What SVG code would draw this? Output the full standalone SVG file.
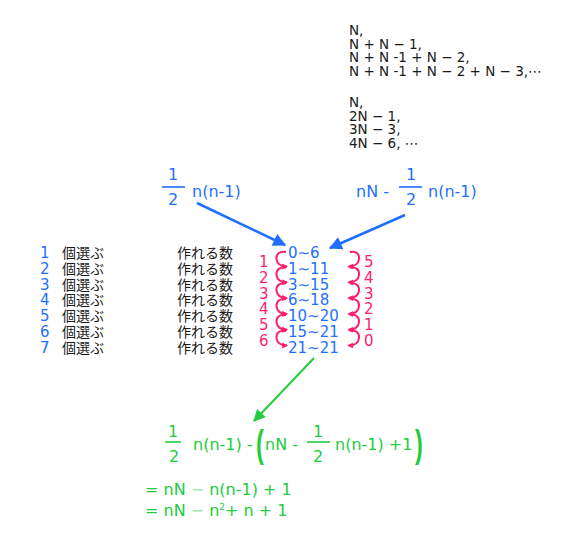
<svg xmlns="http://www.w3.org/2000/svg" width="575" height="536" viewBox="0 0 575 536">
<defs>
<style>
text{font-family:"DejaVu Sans",sans-serif}
.jp{font-family:"Noto Sans CJK JP","DejaVu Sans",sans-serif}
.blk{fill:#1a1a1a;font-size:13.5px}
.blue{fill:#1f6fff;font-size:16px}
.bl{fill:#1f6fff;font-size:15px}
.pk{fill:#ff1e6e;font-size:15px}
.gr{fill:#22cc3c;font-size:16px}
.lgr{fill:#a6eab0}
.bj{fill:#1a1a1a;font-size:14px}
.mid{text-anchor:middle}
.curl{fill:none;stroke:#ff1e6e;stroke-width:2;marker-end:url(#pa)}
</style>
<marker id="ba" markerUnits="userSpaceOnUse" viewBox="0 0 10 10" refX="9" refY="5" markerWidth="15" markerHeight="13" orient="auto"><path d="M0,0 L10,5 L0,10 z" fill="#1f6fff"/></marker>
<marker id="ga" markerUnits="userSpaceOnUse" viewBox="0 0 10 10" refX="9" refY="5" markerWidth="14" markerHeight="12" orient="auto"><path d="M0,0 L10,5 L0,10 z" fill="#22cc3c"/></marker>
<marker id="pa" markerUnits="userSpaceOnUse" viewBox="0 0 10 10" refX="8" refY="5" markerWidth="6" markerHeight="6" orient="auto"><path d="M0,0 L10,5 L0,10 z" fill="#ff1e6e"/></marker>
</defs>
<rect width="575" height="536" fill="#ffffff"/>

<g id="sums">
<text class="blk" x="349" y="35">N,</text>
<text class="blk" x="349" y="48.5">N + N − 1,</text>
<text class="blk" x="349" y="62">N + N -1 + N − 2,</text>
<text class="blk" x="349" y="75.5">N + N -1 + N − 2 + N − 3,⋯</text>
</g>
<g id="simplified">
<text class="blk" x="349" y="107">N,</text>
<text class="blk" x="349" y="120.5">2N − 1,</text>
<text class="blk" x="349" y="134">3N − 3,</text>
<text class="blk" x="349" y="147.5">4N − 6, ⋯</text>
</g>

<g id="min-formula">
<text class="blue mid" x="173" y="180">1</text>
<line x1="162" y1="187" x2="185" y2="187" stroke="#1f6fff" stroke-width="1.6"/>
<text class="blue mid" x="173" y="205">2</text>
<text class="blue" x="192" y="197">n(n-1)</text>
</g>
<g id="max-formula">
<text class="blue" x="356" y="197">nN -</text>
<text class="blue mid" x="411" y="180">1</text>
<line x1="399" y1="187" x2="422" y2="187" stroke="#1f6fff" stroke-width="1.6"/>
<text class="blue mid" x="411" y="205">2</text>
<text class="blue" x="428" y="197">n(n-1)</text>
</g>

<g id="choose-list">
<text class="bl" x="40" y="258">1</text>
<text class="bl" x="40" y="273.8">2</text>
<text class="bl" x="40" y="289.6">3</text>
<text class="bl" x="40" y="305.4">4</text>
<text class="bl" x="40" y="321.2">5</text>
<text class="bl" x="40" y="337">6</text>
<text class="bl" x="40" y="352.8">7</text>
<text class="jp bj" x="62" y="258">個選ぶ</text>
<text class="jp bj" x="62" y="273.8">個選ぶ</text>
<text class="jp bj" x="62" y="289.6">個選ぶ</text>
<text class="jp bj" x="62" y="305.4">個選ぶ</text>
<text class="jp bj" x="62" y="321.2">個選ぶ</text>
<text class="jp bj" x="62" y="337">個選ぶ</text>
<text class="jp bj" x="62" y="352.8">個選ぶ</text>
<text class="jp bj" x="177" y="258">作れる数</text>
<text class="jp bj" x="177" y="273.8">作れる数</text>
<text class="jp bj" x="177" y="289.6">作れる数</text>
<text class="jp bj" x="177" y="305.4">作れる数</text>
<text class="jp bj" x="177" y="321.2">作れる数</text>
<text class="jp bj" x="177" y="337">作れる数</text>
<text class="jp bj" x="177" y="352.8">作れる数</text>
</g>

<g id="ranges">
<text class="bl" x="288" y="258">0∼6</text>
<text class="bl" x="288" y="273.8">1∼11</text>
<text class="bl" x="288" y="289.6">3∼15</text>
<text class="bl" x="288" y="305.4">6∼18</text>
<text class="bl" x="288" y="321.2">10∼20</text>
<text class="bl" x="288" y="337">15∼21</text>
<text class="bl" x="288" y="352.8">21∼21</text>
</g>

<g id="min-steps">
<text class="pk" x="259" y="267">1</text>
<text class="pk" x="259" y="282.8">2</text>
<text class="pk" x="259" y="298.6">3</text>
<text class="pk" x="259" y="314.4">4</text>
<text class="pk" x="259" y="330.2">5</text>
<text class="pk" x="259" y="346">6</text>
</g>
<g id="max-steps">
<text class="pk" x="364" y="267">5</text>
<text class="pk" x="364" y="282.8">4</text>
<text class="pk" x="364" y="298.6">3</text>
<text class="pk" x="364" y="314.4">2</text>
<text class="pk" x="364" y="330.2">1</text>
<text class="pk" x="364" y="346">0</text>
</g>

<g id="connectors">
<line x1="197" y1="203" x2="285" y2="245" stroke="#1f6fff" stroke-width="2.5" marker-end="url(#ba)"/>
<line x1="405" y1="215" x2="330" y2="248" stroke="#1f6fff" stroke-width="2.5" marker-end="url(#ba)"/>
<line x1="314" y1="358" x2="254" y2="421" stroke="#22cc3c" stroke-width="2" marker-end="url(#ga)"/>
<path class="curl" d="M286,252 C280,250.5 276,254 276.5,259 C277,264 281,266.5 287,266.5"/>
<path class="curl" d="M286,267.8 C280,266.3 276,269.8 276.5,274.8 C277,279.8 281,282.3 287,282.3"/>
<path class="curl" d="M286,283.6 C280,282.1 276,285.6 276.5,290.6 C277,295.6 281,298.1 287,298.1"/>
<path class="curl" d="M286,299.4 C280,297.9 276,301.4 276.5,306.4 C277,311.4 281,313.9 287,313.9"/>
<path class="curl" d="M286,315.2 C280,313.7 276,317.2 276.5,322.2 C277,327.2 281,329.7 287,329.7"/>
<path class="curl" d="M286,331 C280,329.5 276,333 276.5,338 C277,343 281,345.5 287,345.5"/>
<path class="curl" d="M350,252 C356,250.5 359.5,254 359,259 C358.5,264 354.5,266.5 348.5,266.5"/>
<path class="curl" d="M350,267.8 C356,266.3 359.5,269.8 359,274.8 C358.5,279.8 354.5,282.3 348.5,282.3"/>
<path class="curl" d="M350,283.6 C356,282.1 359.5,285.6 359,290.6 C358.5,295.6 354.5,298.1 348.5,298.1"/>
<path class="curl" d="M350,299.4 C356,297.9 359.5,301.4 359,306.4 C358.5,311.4 354.5,313.9 348.5,313.9"/>
<path class="curl" d="M350,315.2 C356,313.7 359.5,317.2 359,322.2 C358.5,327.2 354.5,329.7 348.5,329.7"/>
<path class="curl" d="M350,331 C356,329.5 359.5,333 359,338 C358.5,343 354.5,345.5 348.5,345.5"/>
</g>

<g id="count-formula">
<text class="gr mid" x="173" y="437">1</text>
<line x1="165" y1="442" x2="181" y2="442" stroke="#22cc3c" stroke-width="1.6"/>
<text class="gr mid" x="174" y="462">2</text>
<text class="gr" x="193" y="450">n(n-1) -</text>
<text class="gr" x="0" y="0" transform="translate(256,457) scale(0.62,1)" style="font-size:38px;font-weight:bold;font-family:'Liberation Sans',sans-serif">(</text>
<text class="gr" x="265" y="450">nN -</text>
<text class="gr mid" x="318" y="437">1</text>
<line x1="307" y1="442" x2="330" y2="442" stroke="#22cc3c" stroke-width="1.6"/>
<text class="gr mid" x="318" y="462">2</text>
<text class="gr" x="335" y="450">n(n-1) +1</text>
<text class="gr" x="0" y="0" transform="translate(415,457) scale(0.62,1)" style="font-size:38px;font-weight:bold;font-family:'Liberation Sans',sans-serif">)</text>
</g>
<g id="result">
<text class="gr" x="145" y="495">= nN <tspan class="lgr">−</tspan> n(n-1) + 1</text>
<text class="gr" x="145" y="516">= nN <tspan class="lgr">−</tspan> n<tspan dy="-6" style="font-size:9px">2</tspan><tspan dy="6">+ n + 1</tspan></text>
</g>
</svg>
